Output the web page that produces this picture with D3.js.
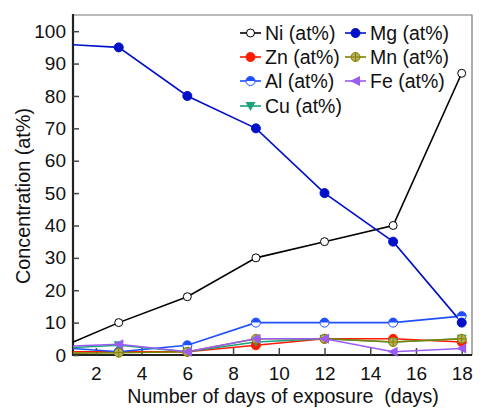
<!DOCTYPE html>
<html>
<head>
<meta charset="utf-8">
<script src="https://cdn.jsdelivr.net/npm/d3@7"></script>
<style>
  body { margin: 0; background: #fff; }
  text { font-family: "Liberation Sans", Arial, sans-serif; }
</style>
</head>
<body>
<svg id="chart" width="485" height="414"></svg>
<script>
// days of exposure (day 0 falls outside the visible axis and is clipped)
let days = [0, 3, 6, 9, 12, 15, 18]

let ni = [1, 10, 18, 30, 35, 40, 87]
let zn = [1, 1, 1, 3, 5, 5, 4]
let al = [2.5, 1, 3, 10, 10, 10, 12]
let cu = [2, 3, 1, 4, 5, 4, 5]
let mg = [96.2, 95, 80, 70, 50, 35, 10]
let mn = [0.5, 0.7, 1, 5, 5, 4, 5]
let fe = [2.5, 3.3, 1, 5, 5, 1, 2]

let xTicks = [2, 4, 6, 8, 10, 12, 14, 16, 18]
let yTicks = [0, 10, 20, 30, 40, 50, 60, 70, 80, 90, 100]

let series = [
  {name: "Ni (at%)", v: ni, color: "#000000", shape: "circle", fill: "#ffffff"},
  {name: "Zn (at%)", v: zn, color: "#ff1a00", shape: "circle", fill: "#ff1a00"},
  {name: "Al (at%)", v: al, color: "#1f4fff", shape: "half", fill: "#1f4fff"},
  {name: "Cu (at%)", v: cu, color: "#1aa37a", shape: "down", fill: "#1aa37a"},
  {name: "Mg (at%)", v: mg, color: "#0010c8", shape: "circle", fill: "#0010c8"},
  {name: "Mn (at%)", v: mn, color: "#7f8000", shape: "cross", fill: "#b5b060"},
  {name: "Fe (at%)", v: fe, color: "#9a5cf5", shape: "left", fill: "#9a5cf5"}
]

let svg = d3.select("#chart")
let pLeft = 73, pTop = 15, pRight = 472, pBottom = 355

let x = d3.scaleLinear().domain([1, 18.45]).range([pLeft, pRight])
let y = d3.scaleLinear().domain([0, 105]).range([pBottom, pTop])

svg.append("defs").append("clipPath").attr("id", "clip")
  .append("rect")
  .attr("x", pLeft).attr("y", pTop)
  .attr("width", pRight - pLeft).attr("height", pBottom - pTop)

// frame top / right
svg.append("path")
  .attr("d", "M" + pLeft + "," + pTop + "H" + pRight + "V" + pBottom)
  .attr("fill", "none")
  .attr("stroke", "#777")
  .attr("stroke-width", 1.2)

let xAxis = svg.append("g")
  .attr("transform", "translate(0," + pBottom + ")")
  .call(d3.axisBottom(x).tickValues(xTicks).tickSizeInner(-7).tickSizeOuter(0).tickPadding(12))
let yAxis = svg.append("g")
  .attr("transform", "translate(" + pLeft + ",0)")
  .call(d3.axisLeft(y).tickValues(yTicks).tickSizeInner(-6).tickSizeOuter(0).tickPadding(7))

for (let ax of [xAxis, yAxis]) {
  ax.select(".domain").attr("stroke", "#222").attr("stroke-width", 2.2)
  ax.selectAll(".tick line").attr("stroke", "#444").attr("stroke-width", 1.5)
  ax.selectAll(".tick text").attr("font-size", "19px").attr("fill", "#111")
}
yAxis.select(".domain").attr("d", "M0," + (pTop - 1) + "V" + (pBottom + 1))
xAxis.select(".domain").attr("d", "M" + (pLeft - 1) + ",0H" + pRight)

svg.append("text")
  .attr("x", 283)
  .attr("y", 403)
  .attr("text-anchor", "middle")
  .attr("font-size", "19.6px")
  .attr("fill", "#111")
  .text("Number of days of exposure\u00a0 (days)")

svg.append("text")
  .attr("transform", "translate(30,196) rotate(-90)")
  .attr("text-anchor", "middle")
  .attr("font-size", "19.8px")
  .attr("fill", "#111")
  .text("Concentration (at%)")

const drawMarker = (g, s, px, py) => {
  if (s.shape == "circle") {
    let r = s.fill == "#ffffff" ? 4 : 4.5
    g.append("circle").attr("cx", px).attr("cy", py).attr("r", r)
      .attr("fill", s.fill).attr("stroke", s.color).attr("stroke-width", 1)
  } else if (s.shape == "half") {
    g.append("circle").attr("cx", px).attr("cy", py).attr("r", 4.5)
      .attr("fill", "#fff").attr("stroke", s.color).attr("stroke-width", 1)
    g.append("path")
      .attr("d", "M" + (px - 4.5) + "," + py + "A4.5,4.5 0 0 1 " + (px + 4.5) + "," + py + "Z")
      .attr("fill", s.color)
  } else if (s.shape == "cross") {
    g.append("circle").attr("cx", px).attr("cy", py).attr("r", 4.5)
      .attr("fill", s.fill).attr("stroke", s.color).attr("stroke-width", 1)
    g.append("path")
      .attr("d", "M" + (px - 4.5) + "," + py + "H" + (px + 4.5) + "M" + px + "," + (py - 4.5) + "V" + (py + 4.5))
      .attr("stroke", s.color).attr("stroke-width", 1)
  } else if (s.shape == "down") {
    g.append("path")
      .attr("d", "M" + (px - 5) + "," + (py - 4) + "H" + (px + 5) + "L" + px + "," + (py + 5) + "Z")
      .attr("fill", s.fill)
  } else if (s.shape == "left") {
    g.append("path")
      .attr("d", "M" + (px - 5.5) + "," + py + "L" + (px + 4.5) + "," + (py - 5) + "V" + (py + 5) + "Z")
      .attr("fill", s.fill)
  }
}

let plot = svg.append("g").attr("clip-path", "url(#clip)")

let line = d3.line()
  .x((d, i) => { return x(days[i]) })
  .y((d) => { return y(d) })

for (let s of series) {
  plot.append("path")
    .datum(s.v)
    .attr("fill", "none")
    .attr("stroke", s.color)
    .attr("stroke-width", 1.6)
    .attr("d", line)
}
for (let s of series) {
  let g = svg.append("g")
  s.v.forEach((d, i) => {
    if (days[i] >= 1) drawMarker(g, s, x(days[i]), y(d))
  })
}

// legend
let legendRows = [33, 57, 81, 106]
series.forEach((s, i) => {
  let col = i < 4 ? 0 : 1
  let row = i < 4 ? i : i - 4
  let lx = col == 0 ? 240 : 345
  let ly = legendRows[row]
  let g = svg.append("g")
  g.append("line")
    .attr("x1", lx).attr("x2", lx + 21)
    .attr("y1", ly).attr("y2", ly)
    .attr("stroke", s.color).attr("stroke-width", 1.6)
  drawMarker(g, s, lx + 10.5, ly)
  g.append("text")
    .attr("x", lx + 25)
    .attr("y", ly)
    .attr("dy", "0.35em")
    .attr("font-size", "19.5px")
    .attr("fill", "#111")
    .text(s.name)
})
</script>
</body>
</html>
